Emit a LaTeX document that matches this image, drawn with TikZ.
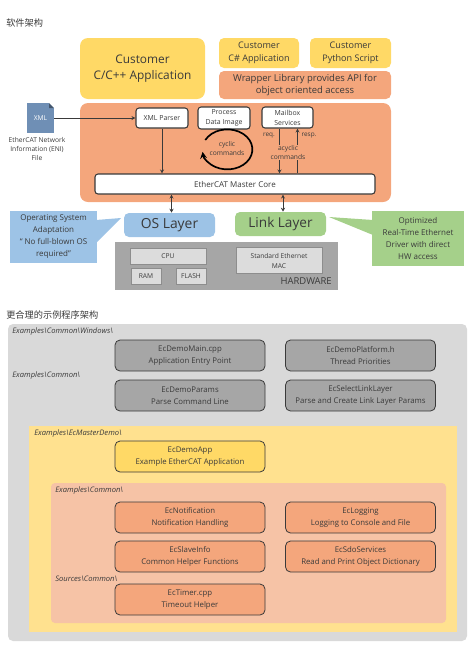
\documentclass[tikz,border=0pt]{standalone}
\usepackage{fontspec}
\setmainfont{Open Sans}
\newfontfamily\cjk{Noto Sans CJK SC}
\usetikzlibrary{arrows.meta}
\definecolor{custYellow}{HTML}{FFD966}
\definecolor{paleYellow}{HTML}{FFE18F}
\definecolor{coreOrange}{HTML}{F4A67C}
\definecolor{paleOrange}{HTML}{F6C3A6}
\definecolor{osBlue}{HTML}{9DC3E6}
\definecolor{linkGreen}{HTML}{A5D08A}
\definecolor{hwGray}{HTML}{A6A6A6}
\definecolor{chipGray}{HTML}{DCDCDC}
\definecolor{paleGray}{HTML}{D9D9D9}
\definecolor{docBlue}{HTML}{6F8FB5}
\definecolor{inkGray}{HTML}{3A3A3A}
\def\u{0.75pt}
\tikzset{
	x=\u, y=-\u,
	txt/.style={text=inkGray, inner sep=0pt, align=center, font=\fontsize{5.85}{9}\selectfont},
	region/.style={txt, rounded corners=5*\u},
	chip/.style={txt, fill=chipGray, draw=hwGray!85!black, font=\fontsize{5}{7.5}\selectfont},
	white box/.style={txt, fill=white, draw=inkGray, thick, rounded corners=3*\u, font=\fontsize{5.2}{7.5}\selectfont},
	file box/.style={txt, draw=inkGray, semithick, rounded corners=5*\u, minimum width=150*\u, minimum height=31*\u},
	path tag/.style={txt, anchor=west, font=\fontsize{5.7}{7}\selectfont\itshape},
	link/.style={draw=inkGray, semithick, -{Stealth[length=3pt,width=3pt]}},
	both link/.style={link, {Stealth[length=3pt,width=3pt]}-{Stealth[length=3pt,width=3pt]}}
}
\begin{document}
\begin{tikzpicture}
	\useasboundingbox (0,0) rectangle (474,647);
	\node[txt, anchor=west, font=\cjk\fontsize{6.9}{8}\selectfont] (titleTop) at (6,23) {软件架构};
	\node[txt, anchor=west, font=\cjk\fontsize{6.9}{8}\selectfont] (titleBottom) at (6,315) {更合理的示例程序架构};

	\node[region, fill=custYellow, rounded corners=8*\u, minimum width=125*\u, minimum height=61*\u, font=\fontsize{8.9}{12.4}\selectfont] (custC) at (142.5,68.5) {Customer\\C/C++ Application};
	\node[region, fill=custYellow, minimum width=80*\u, minimum height=30*\u, font=\fontsize{6.8}{9.4}\selectfont] (custSharp) at (259,53) {Customer\\C\# Application};
	\node[region, fill=custYellow, minimum width=81*\u, minimum height=30*\u, font=\fontsize{6.8}{9.4}\selectfont] (custPy) at (350.5,53) {Customer\\Python Script};
	\node[region, fill=coreOrange, minimum width=172*\u, minimum height=28*\u, font=\fontsize{7.1}{9.4}\selectfont] (wrapper) at (305,85) {Wrapper Library provides API for\\object oriented access};
	\fill[coreOrange, rounded corners=8*\u] (80,103) rectangle (391,202);

	\node[fill=docBlue, text=white, inner sep=0pt, minimum width=27*\u, minimum height=30*\u, font=\fontsize{5}{6}\selectfont] (xmlDoc) at (40.5,118) {XML};
	\fill[white] (49,103) -- (54.5,103) -- (54.5,108.5) -- cycle;
	\fill[docBlue!60!black] (49,103) -- (54,108) -- (49,108) -- cycle;
	\node[txt, font=\fontsize{5}{7}\selectfont] (eniLabel) at (37,149) {EtherCAT Network\\Information (ENI)\\File};

	\node[white box, minimum width=52*\u, minimum height=20*\u] (xmlParser) at (162,118) {XML Parser};
	\node[white box, minimum width=52*\u, minimum height=22*\u] (dataImage) at (224,118) {Process\\Data Image};
	\node[white box, minimum width=51*\u, minimum height=21*\u] (mailbox) at (287.5,117.5) {Mailbox\\Services};
	\node[white box, minimum width=280*\u, minimum height=20*\u, font=\fontsize{6}{8}\selectfont] (masterCore) at (235,184) {EtherCAT Master Core};

	\node[region, fill=osBlue, minimum width=91*\u, minimum height=24*\u, font=\fontsize{10.4}{13}\selectfont] (osLayer) at (169.5,225) {OS Layer};
	\node[region, fill=linkGreen, minimum width=91*\u, minimum height=24*\u, font=\fontsize{10.2}{13}\selectfont] (linkLayer) at (280.5,224) {Link Layer};

	\node[txt, fill=osBlue, minimum width=87*\u, minimum height=52*\u, font=\fontsize{6}{9}\selectfont] (osNote) at (53.5,237) {Operating System\\Adaptation\\“ No full-blown OS\\required”};
	\node[txt, fill=linkGreen, minimum width=92*\u, minimum height=55*\u, font=\fontsize{6}{9}\selectfont] (linkNote) at (418,238.5) {Optimized\\Real-Time Ethernet\\Driver with direct\\HW access};
	\fill[osBlue] (121,218) -- (96,220) -- (96,243) -- cycle;
	\fill[linkGreen] (329,217) -- (373,220) -- (373,235) -- cycle;

	\fill[hwGray] (115,242) rectangle (338,290);
	\node[chip, minimum width=76*\u, minimum height=16*\u] (cpu) at (168,256) {CPU};
	\node[chip, minimum width=30*\u, minimum height=16*\u] (ram) at (146,276) {RAM};
	\node[chip, minimum width=30*\u, minimum height=16*\u] (flash) at (191,276) {FLASH};
	\node[chip, minimum width=86*\u, minimum height=26*\u] (ethMac) at (279,260.5) {Standard Ethernet\\MAC};
	\node[txt, anchor=east, font=\fontsize{7.1}{8}\selectfont] (hwLabel) at (332,281) {HARDWARE};

	\draw[link] (xmlDoc) -- (xmlParser);
	\draw[link] (xmlParser.south) -- (xmlParser.south |- masterCore.north);
	\draw[link] ([xshift=-8*\u]mailbox.south) -- ([xshift=-8*\u]mailbox.south |- masterCore.north);
	\draw[link] ([xshift=10*\u]mailbox.south |- masterCore.north) -- ([xshift=10*\u]mailbox.south);
	\draw[both link] ([xshift=2*\u]osLayer.north) -- ([xshift=2*\u]osLayer.north |- masterCore.south);
	\draw[both link] ([xshift=2.5*\u]linkLayer.north) -- ([xshift=2.5*\u]linkLayer.north |- masterCore.south);

	\coordinate (cycStart) at (205.3,140);
	\draw[black, line width=1.25pt, -{Stealth[length=5pt,width=5pt]}] (cycStart) arc[start angle=208, end angle=533, x radius=25, y radius=20];
	\node[txt, font=\fontsize{5}{7}\selectfont] (cyclicTxt) at (227,148.5) {cyclic\\commands};
	\node[txt, fill=coreOrange, font=\fontsize{5}{7}\selectfont] (acyclicTxt) at (288,152.5) {acyclic\\commands};
	\node[txt, font=\fontsize{4.8}{6}\selectfont] (reqTxt) at (269,136) {req.};
	\node[txt, font=\fontsize{4.8}{6}\selectfont] (respTxt) at (309,136) {resp.};

	\fill[paleGray, rounded corners=5*\u] (8,324) rectangle (467,641);
	\fill[paleYellow] (29,426) rectangle (457,632);
	\fill[paleOrange, rounded corners=4*\u] (51,483) rectangle (446,623);

	\foreach \nm/\tag/\x/\y in {tagWin/{Examples\textbackslash Common\textbackslash Windows\textbackslash}/12/332, tagCommon/{Examples\textbackslash Common\textbackslash}/12/376, tagDemo/{Examples\textbackslash EcMasterDemo\textbackslash}/34/434, tagShared/{Examples\textbackslash Common\textbackslash}/55/491, tagSrc/{Sources\textbackslash Common\textbackslash}/55/579} {
		\node[path tag] (\nm) at (\x,\y) {\tag};
	}
	\foreach \nm/\x/\y/\a/\b in {ecMain/190/355.5/EcDemoMain.cpp/Application Entry Point, ecPlatform/360.5/355.5/EcDemoPlatform.h/Thread Priorities, ecParams/190/395.5/EcDemoParams/Parse Command Line, ecSelect/360.5/395.5/EcSelectLinkLayer/Parse and Create Link Layer Params} {
		\node[file box, fill=hwGray] (\nm) at (\x,\y) {\a\\\b};
	}
	\node[file box, fill=custYellow] (ecApp) at (190,456.5) {EcDemoApp\\Example EtherCAT Application};
	\foreach \nm/\x/\y/\a/\b in {ecNotify/190/517.5/EcNotification/Notification Handling, ecLogging/360.5/517.5/EcLogging/Logging to Console and File, ecSlave/190/556.5/EcSlaveInfo/Common Helper Functions, ecSdo/360.5/556.5/EcSdoServices/Read and Print Object Dictionary, ecTimer/190/599.5/EcTimer.cpp/Timeout Helper} {
		\node[file box, fill=coreOrange] (\nm) at (\x,\y) {\a\\\b};
	}
\end{tikzpicture}
\end{document}
